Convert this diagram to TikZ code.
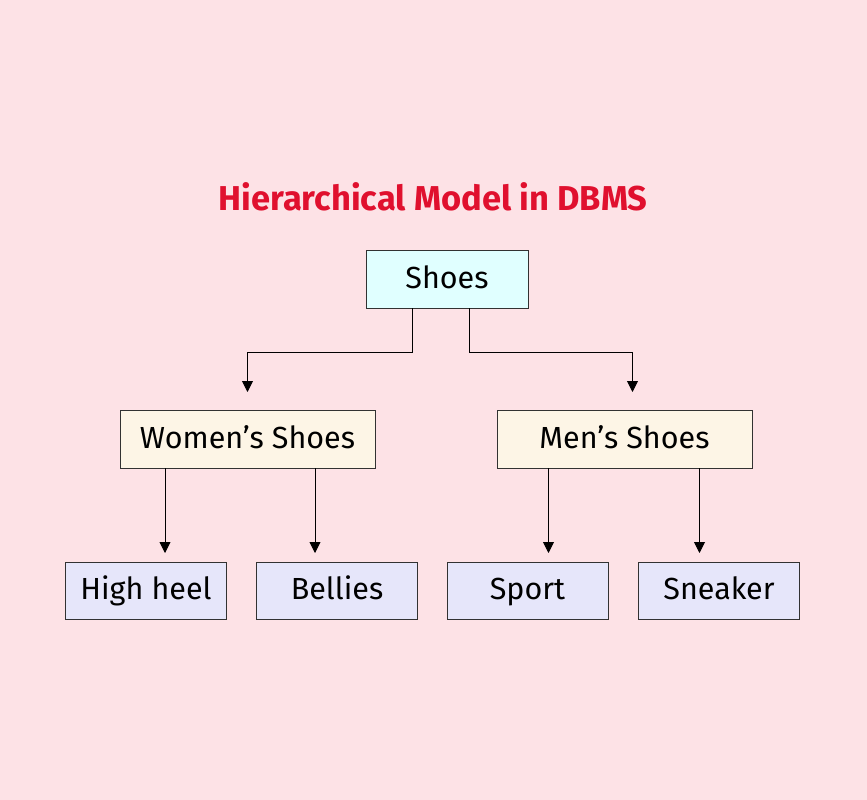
\documentclass[tikz,border=0pt]{standalone}
\usepackage{fontspec}
\setmainfont{Fira Sans}
\usepackage{xcolor}
\usepackage{tikz}
\usetikzlibrary{arrows.meta, positioning, calc}
\definecolor{pagefill}{RGB}{253,226,230}
\definecolor{titlered}{RGB}{224,16,46}
\definecolor{rootfill}{RGB}{224,255,255}
\definecolor{groupfill}{RGB}{253,245,230}
\definecolor{leaffill}{RGB}{230,230,250}
\definecolor{edgegray}{RGB}{50,50,50}
\tikzset{
    block/.style={
        rectangle,
        draw=edgegray,
        line width=0.9pt,
        outer sep=0pt,
        text centered,
        inner sep=0pt,
        text height=21pt,
        text depth=3pt,
        minimum height=58pt,
        font=\fontsize{30.5}{36}\selectfont
    },
    rootblock/.style={
        block,
        fill=rootfill,
        minimum width=162pt
    },
    groupblock/.style={
        block,
        fill=groupfill,
        minimum width=255pt
    },
    leafblock/.style={
        block,
        fill=leaffill,
        minimum width=161pt,
        minimum height=57pt
    },
    connection/.style={
        draw=black,
        line width=0.9pt,
        -{Triangle[width=11pt,length=11pt]}
    },
    title/.style={
        text=titlered,
        font=\fontsize{34.5}{40}\selectfont\bfseries
    }
}
\begin{document}
\begin{tikzpicture}[x=1pt, y=1pt]
\fill[pagefill] (0,0) rectangle (867,-800);
\useasboundingbox (0,0) rectangle (867,-800);
% Hierarchy
\node[title] (heading) at (433,-197) {Hierarchical Model in DBMS};
\node[rootblock] (shoes) at (447,-279) {Shoes};
\node[groupblock, below=102pt of shoes, xshift=-199.5pt] (women) {Women’s Shoes};
\node[groupblock, right=122pt of women] (men) {Men’s Shoes};
\node[leafblock, below=94pt of women, xshift=-101.5pt] (highheel) {High heel};
\node[leafblock, right=30pt of highheel] (bellies) {Bellies};
\node[leafblock, right=29.5pt of bellies] (sport) {Sport};
\node[leafblock, right=30.5pt of sport] (sneaker) {Sneaker};

\draw[connection] ($(shoes.south)+(-35,0)$) -- ++(0,-44) -| ($(women.north)+(0,18)$);
\draw[connection] ($(shoes.south)+(22,0)$) -- ++(0,-44) -| ($(men.north)+(8,18)$);
\draw[connection, shorten >=9pt] ($(women.south)+(-82.5,0)$) coordinate (w1) -- (w1 |- highheel.north);
\draw[connection, shorten >=9pt] ($(women.south)+(67.5,0)$) coordinate (w2) -- (w2 |- bellies.north);
\draw[connection, shorten >=9pt] ($(men.south)+(-76,0)$) coordinate (m1) -- (m1 |- sport.north);
\draw[connection, shorten >=9pt] ($(men.south)+(75,0)$) coordinate (m2) -- (m2 |- sneaker.north);
\end{tikzpicture}
\end{document}
